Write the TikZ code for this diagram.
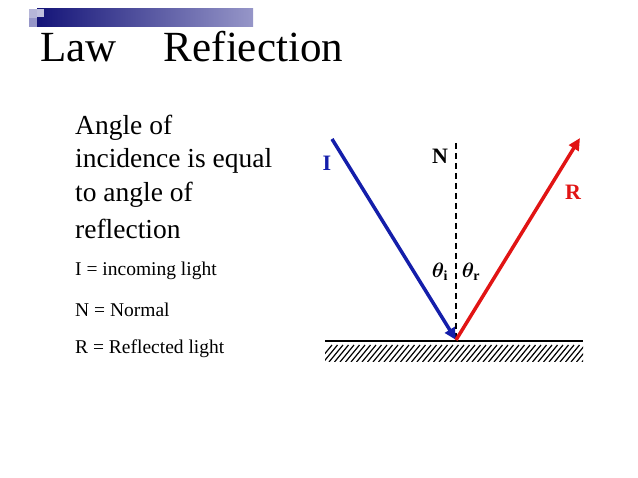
\documentclass[tikz,border=0pt]{standalone}
\usepackage{amsmath,amssymb,bm}
\usepackage{fontspec}
\setmainfont{Liberation Serif}
\usetikzlibrary{arrows.meta}
\definecolor{navy}{RGB}{20,20,120}
\definecolor{lav}{RGB}{150,150,200}
\definecolor{iblue}{RGB}{20,30,170}
\definecolor{rred}{RGB}{225,20,20}
\tikzset{
 big/.style={font=\fontsize{27.5}{30}\selectfont, anchor=west, inner sep=0},
 small/.style={font=\fontsize{19.5}{22}\selectfont, anchor=west, inner sep=0},
 lbl/.style={font=\bfseries\fontsize{22}{24}\selectfont, inner sep=0},
 ray/.style={line width=3.5pt, -{Triangle[length=12pt,width=11pt]}}
}
\begin{document}
\begin{tikzpicture}[x=1pt,y=-1pt]
\useasboundingbox (0,0) rectangle (638,478);
\fill[left color=navy, right color=lav] (37,9) rectangle (253,27);
\fill[lav!70] (29,9) rectangle (37,18);
\fill[lav] (29,18) rectangle (37,27);
\fill[lav!60] (37,9) rectangle (44,17);
\node[font=\fontsize{43}{46}\selectfont, anchor=base west, inner sep=0] (title) at (40,62) {Law\hspace{1.1em}Refiection};
\node[big] (t1) at (75,128) {Angle of};
\node[big] (t2) at (75,161) {incidence is equal};
\node[big] (t3) at (75,195) {to angle of};
\node[big] (t4) at (75,229) {reflection};
\node[small] (s1) at (75,271) {I = incoming light};
\node[small] (s2) at (75,310) {N = Normal};
\node[small] (s3) at (75,349) {R = Reflected light};
\coordinate (O) at (456,340);
\coordinate (Is) at (332,139);
\coordinate (Re) at (580,138);
\coordinate (Nt) at (456,143);
\begin{scope}
\clip (325,345) rectangle (583,362);
\foreach \x in {318,323.5,...,590} \draw[line width=1.2pt] (\x,362) -- (\x+14,345);
\end{scope}
\draw[line width=1.6pt] (325,341) -- (583,341);
\draw[dash pattern=on 6pt off 4pt, line width=1.2pt] (Nt) -- (O);
\draw[ray, iblue] (Is) -- (O);
\draw[ray, rred] (O) -- (Re);
\node[lbl] (N) at (440,156) {N};
\node[lbl, iblue] (I) at (327,163) {I};
\node[lbl, rred] (R) at (573,192) {R};
\node[lbl, font=\fontsize{20}{22}\selectfont] (ti) at (440,272) {$\bm\theta_{\mathbf i}$};
\node[lbl, font=\fontsize{20}{22}\selectfont] (tr) at (471,272) {$\bm\theta_{\mathbf r}$};
\end{tikzpicture}
\end{document}
